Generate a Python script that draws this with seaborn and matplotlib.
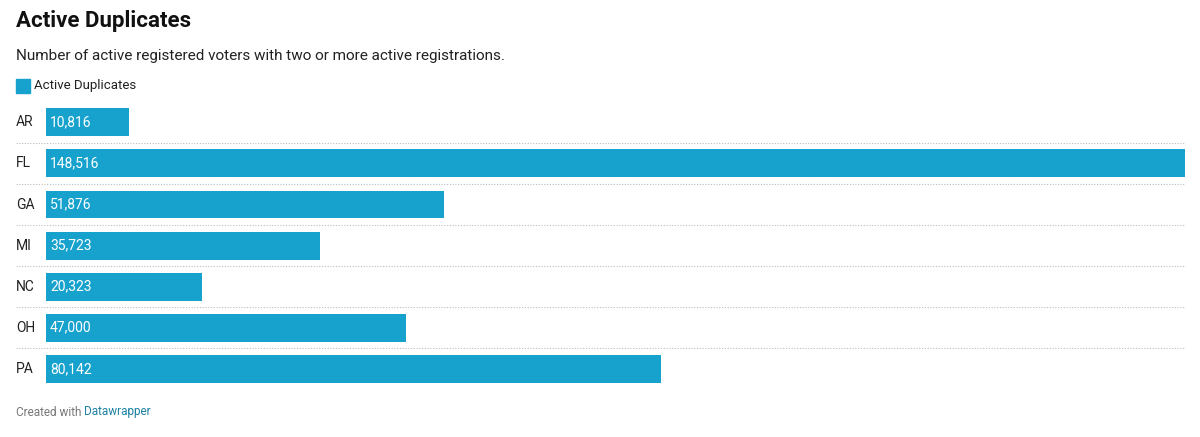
import matplotlib
matplotlib.use("Agg")
import matplotlib.pyplot as plt
import seaborn as sns
import pandas as pd

states = ["AR", "FL", "GA", "MI", "NC", "OH", "PA"]
duplicates = [10816, 148516, 51876, 35723, 20323, 47000, 80142]

BLUE = "#17a2ce"
sns.set_style("white")
plt.rcParams["font.family"] = ["Roboto", "DejaVu Sans"]

df = pd.DataFrame({"state": states, "dups": duplicates})

W, H = 1200, 437
fig = plt.figure(figsize=(12, 4.37), dpi=100)
ax = fig.add_axes([46 / W, 1 - 389.4 / H, (1185 - 46) / W, 287.6 / H])

sns.barplot(data=df, y="state", x="dups", orient="h", color=BLUE,
            width=0.68, saturation=1, ax=ax, edgecolor="none")
ax.set_xlim(0, max(duplicates))
ax.set_ylim(len(states) - 0.5, -0.5)
ax.axis("off")

xmin = -30 / (1185 - 46)
for i, (s, v) in enumerate(zip(states, duplicates)):
    ax.text(max(duplicates) * 4 / 1139, i, f"{v:,}", color="white",
            va="center", ha="left", fontsize=10)
    ax.text(xmin, i, s, transform=ax.get_yaxis_transform(), va="center",
            ha="left", fontsize=10, color="#222222")
    if i < len(states) - 1:
        ax.axhline(i + 0.5, xmin=xmin, xmax=1, color="#bbbbbb", lw=0.8,
                   ls=(0, (1, 1.5)), clip_on=False)

fig.text(16 / W, 1 - 21 / H, "Active Duplicates", fontsize=16, fontweight="bold",
         va="center", ha="left", color="#111111")
fig.text(16 / W, 1 - 56 / H,
         "Number of active registered voters with two or more active registrations.",
         fontsize=11, va="center", ha="left", color="#222222")
fig.patches.append(plt.Rectangle((16 / W, 1 - 93 / H), 14 / W, 14 / H,
                                 transform=fig.transFigure, color=BLUE))
fig.text(34 / W, 1 - 86 / H, "Active Duplicates", fontsize=9.5, va="center",
         ha="left", color="#222222")
t = fig.text(16 / W, 1 - 412 / H, "Created with ", fontsize=8.5, va="center",
             ha="left", color="#777777")
fig.text(84 / W, 1 - 412 / H, "Datawrapper", fontsize=8.5, va="center",
         ha="left", color="#1d81a2")

fig.savefig("out.png", dpi=100)
